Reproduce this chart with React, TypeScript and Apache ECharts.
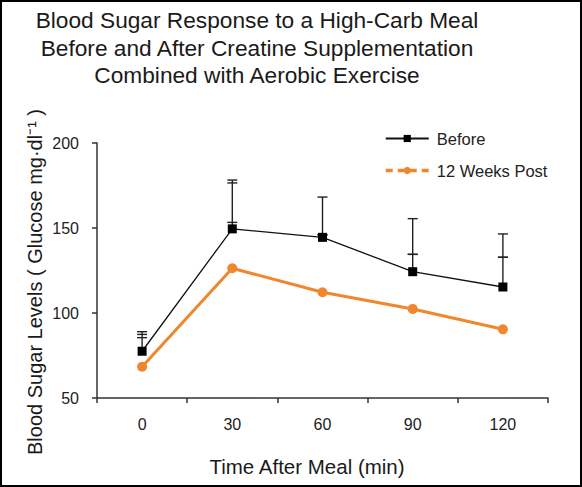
import React, { useEffect, useRef } from "react";
import * as echarts from "echarts";

const categories = ["0", "30", "60", "90", "120"];
const beforeValues = [77.5, 149.5, 144.5, 124.3, 115.3];
const postValues = [68.4, 126.3, 112.2, 102.4, 90.4];
// error bar caps for "Before"
const errTop = [89, 178.2, 168.2, 155.5, 146.5];
const errCapMid = [87.4, 176.5, 146, 134.5, 132.8];
const errCapLow = [85.5, 153.3, 146, 134.5, 132.8];
const yTicks = [50, 100, 150, 200];

const titleLines = [
  "Blood Sugar Response to a High-Carb Meal",
  "Before and After Creatine Supplementation",
  "Combined with Aerobic Exercise",
];

export default function App() {
  const ref = useRef<HTMLDivElement>(null);
  useEffect(() => {
    if (!ref.current) return;
    const chart = echarts.init(ref.current, undefined, { renderer: "svg" });
    const font = "Liberation Sans, Arial, sans-serif";
    const errData = categories.map((_, i) => [i, beforeValues[i], errTop[i], errCapMid[i], errCapLow[i]]);
    const titleGraphics = titleLines.map((t, i) => ({
      type: "text",
      x: 257,
      y: 20 + i * 27.7,
      style: {
        text: t,
        fontSize: 22.7,
        fontFamily: font,
        fill: "#1a1a1a",
        textAlign: "center",
        textVerticalAlign: "middle",
      },
    }));
    chart.setOption({
      animation: false,
      backgroundColor: "#fff",
      textStyle: { fontFamily: font },
      legend: {
        orient: "vertical",
        left: 379,
        top: 125,
        itemWidth: 43,
        itemHeight: 9,
        itemGap: 15,
        textStyle: { fontSize: 16.5, color: "#222", fontFamily: font, padding: [0, 0, 0, 3] },
        data: [
          { name: "Before" },
          { name: "12 Weeks Post", lineStyle: { type: [7, 5], width: 3.5 } },
        ],
      },
      grid: { left: 97, top: 143, right: 34, bottom: 89, containLabel: false },
      xAxis: {
        type: "category",
        data: categories,
        boundaryGap: true,
        axisLine: { lineStyle: { color: "#333", width: 1.5 } },
        axisTick: { show: true, inside: false, length: 5, alignWithLabel: false, lineStyle: { color: "#333", width: 1.5 } },
        axisLabel: { fontSize: 16, color: "#222", margin: 18, fontFamily: font },
      },
      yAxis: {
        type: "value",
        min: yTicks[0],
        max: yTicks[yTicks.length - 1],
        interval: 50,
        splitLine: { show: false },
        axisLine: { show: true, lineStyle: { color: "#333", width: 1.5 } },
        axisTick: { show: true, inside: false, length: 5, lineStyle: { color: "#333", width: 1.5 } },
        axisLabel: { fontSize: 16, color: "#222", margin: 18, fontFamily: font },
      },
      series: [
        {
          type: "custom",
          name: "err",
          z: 1,
          silent: true,
          renderItem: (params: any, api: any) => {
            const x = api.value(0);
            const base = api.coord([x, api.value(1)]);
            const top = api.coord([x, api.value(2)]);
            const c1 = api.coord([x, api.value(3)]);
            const c2 = api.coord([x, api.value(4)]);
            const hw = 5;
            const st = { stroke: "#222", lineWidth: 1.4 };
            return {
              type: "group",
              children: [
                { type: "line", shape: { x1: base[0], y1: base[1], x2: top[0], y2: top[1] }, style: st },
                { type: "line", shape: { x1: top[0] - hw, y1: top[1], x2: top[0] + hw, y2: top[1] }, style: st },
                { type: "line", shape: { x1: c1[0] - hw, y1: c1[1], x2: c1[0] + hw, y2: c1[1] }, style: st },
                { type: "line", shape: { x1: c2[0] - hw, y1: c2[1], x2: c2[0] + hw, y2: c2[1] }, style: st },
              ],
            };
          },
          data: errData,
        },
        {
          name: "Before",
          type: "line",
          z: 3,
          data: beforeValues,
          symbol: "rect",
          symbolSize: 9,
          itemStyle: { color: "#000" },
          lineStyle: { color: "#111", width: 1.3 },
        },
        {
          name: "12 Weeks Post",
          type: "line",
          z: 2,
          data: postValues,
          symbol: "circle",
          symbolSize: 10,
          itemStyle: { color: "#f0862e" },
          lineStyle: { color: "#f0862e", width: 3 },
        },
      ],
      graphic: [
        ...titleGraphics,
        {
          type: "text",
          x: 35,
          y: 282,
          rotation: Math.PI / 2,
          style: {
            text: "Blood Sugar Levels ( Glucose mg·dl\u207B\u00B9 )",
            fontSize: 20,
            fontFamily: font,
            fill: "#1a1a1a",
            textAlign: "center",
            textVerticalAlign: "middle",
          },
        },
        {
          type: "text",
          x: 307,
          y: 466,
          style: {
            text: "Time After Meal (min)",
            fontSize: 20.5,
            fontFamily: font,
            fill: "#1a1a1a",
            textAlign: "center",
            textVerticalAlign: "middle",
          },
        },
        {
          type: "rect",
          z: 100,
          shape: { x: 1, y: 1, width: 580, height: 485 },
          style: { fill: "none", stroke: "#000", lineWidth: 2 },
        },
      ],
    });
    return () => chart.dispose();
  }, []);
  return (
    <div
      ref={ref}
      style={{ position: "fixed", left: 0, top: 0, width: 582, height: 487 }}
    />
  );
}
